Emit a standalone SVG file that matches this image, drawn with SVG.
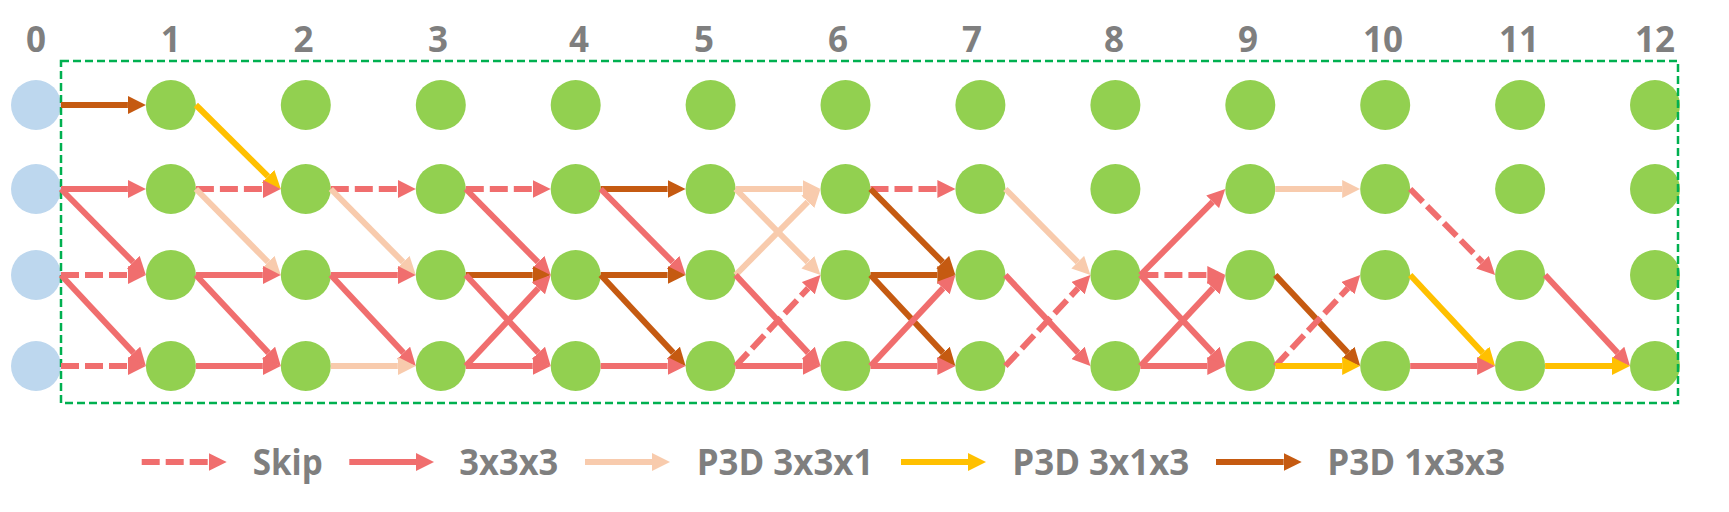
<svg xmlns="http://www.w3.org/2000/svg" width="1729" height="512" viewBox="0 0 1729 512">
<style>
.in{fill:#BDD7EE}
.nd{fill:#92D050}
.lbl{font-family:"Open Sans","Liberation Sans",sans-serif;font-weight:bold;font-size:35px;fill:#7F7F7F}
.c{text-anchor:middle}
#conn path,#legend path{fill:none;stroke-width:6}
.r{stroke:#F06E6E;marker-end:url(#mr)}
.s{stroke:#F06E6E;stroke-dasharray:18 6;marker-end:url(#mr)}
.p{stroke:#F8CBAD;marker-end:url(#mp)}
.y{stroke:#FFC000;marker-end:url(#my)}
.b{stroke:#C55A11;marker-end:url(#mb)}
</style>
<defs>
<marker id="mr" markerUnits="userSpaceOnUse" markerWidth="18" markerHeight="18" refX="0" refY="9" orient="auto"><path d="M0,0 L18,9 L0,18 z" fill="#F06E6E"/></marker>
<marker id="mp" markerUnits="userSpaceOnUse" markerWidth="18" markerHeight="18" refX="0" refY="9" orient="auto"><path d="M0,0 L18,9 L0,18 z" fill="#F8CBAD"/></marker>
<marker id="my" markerUnits="userSpaceOnUse" markerWidth="18" markerHeight="18" refX="0" refY="9" orient="auto"><path d="M0,0 L18,9 L0,18 z" fill="#FFC000"/></marker>
<marker id="mb" markerUnits="userSpaceOnUse" markerWidth="18" markerHeight="18" refX="0" refY="9" orient="auto"><path d="M0,0 L18,9 L0,18 z" fill="#C55A11"/></marker>
</defs>
<rect width="1729" height="512" fill="#FFFFFF"/>
<g id="col-labels" class="lbl c">
<text x="36" y="52">0</text>
<text x="170.7" y="52">1</text>
<text x="303.5" y="52">2</text>
<text x="438" y="52">3</text>
<text x="579" y="52">4</text>
<text x="704" y="52">5</text>
<text x="838" y="52">6</text>
<text x="972" y="52">7</text>
<text x="1114" y="52">8</text>
<text x="1248" y="52">9</text>
<text x="1383" y="52">10</text>
<text x="1519" y="52">11</text>
<text x="1655" y="52">12</text>
</g>
<g id="nodes">
<g id="n0-1"><circle class="in" cx="36" cy="105" r="25"/></g>
<g id="n0-2"><circle class="in" cx="36" cy="189" r="25"/></g>
<g id="n0-3"><circle class="in" cx="36" cy="275" r="25"/></g>
<g id="n0-4"><circle class="in" cx="36" cy="366" r="25"/></g>
<g id="n1-1"><circle class="nd" cx="170.9" cy="105" r="25"/></g>
<g id="n1-2"><circle class="nd" cx="170.9" cy="189" r="25"/></g>
<g id="n1-3"><circle class="nd" cx="170.9" cy="275" r="25"/></g>
<g id="n1-4"><circle class="nd" cx="170.9" cy="366" r="25"/></g>
<g id="n2-1"><circle class="nd" cx="305.8" cy="105" r="25"/></g>
<g id="n2-2"><circle class="nd" cx="305.8" cy="189" r="25"/></g>
<g id="n2-3"><circle class="nd" cx="305.8" cy="275" r="25"/></g>
<g id="n2-4"><circle class="nd" cx="305.8" cy="366" r="25"/></g>
<g id="n3-1"><circle class="nd" cx="440.8" cy="105" r="25"/></g>
<g id="n3-2"><circle class="nd" cx="440.8" cy="189" r="25"/></g>
<g id="n3-3"><circle class="nd" cx="440.8" cy="275" r="25"/></g>
<g id="n3-4"><circle class="nd" cx="440.8" cy="366" r="25"/></g>
<g id="n4-1"><circle class="nd" cx="575.7" cy="105" r="25"/></g>
<g id="n4-2"><circle class="nd" cx="575.7" cy="189" r="25"/></g>
<g id="n4-3"><circle class="nd" cx="575.7" cy="275" r="25"/></g>
<g id="n4-4"><circle class="nd" cx="575.7" cy="366" r="25"/></g>
<g id="n5-1"><circle class="nd" cx="710.6" cy="105" r="25"/></g>
<g id="n5-2"><circle class="nd" cx="710.6" cy="189" r="25"/></g>
<g id="n5-3"><circle class="nd" cx="710.6" cy="275" r="25"/></g>
<g id="n5-4"><circle class="nd" cx="710.6" cy="366" r="25"/></g>
<g id="n6-1"><circle class="nd" cx="845.5" cy="105" r="25"/></g>
<g id="n6-2"><circle class="nd" cx="845.5" cy="189" r="25"/></g>
<g id="n6-3"><circle class="nd" cx="845.5" cy="275" r="25"/></g>
<g id="n6-4"><circle class="nd" cx="845.5" cy="366" r="25"/></g>
<g id="n7-1"><circle class="nd" cx="980.4" cy="105" r="25"/></g>
<g id="n7-2"><circle class="nd" cx="980.4" cy="189" r="25"/></g>
<g id="n7-3"><circle class="nd" cx="980.4" cy="275" r="25"/></g>
<g id="n7-4"><circle class="nd" cx="980.4" cy="366" r="25"/></g>
<g id="n8-1"><circle class="nd" cx="1115.4" cy="105" r="25"/></g>
<g id="n8-2"><circle class="nd" cx="1115.4" cy="189" r="25"/></g>
<g id="n8-3"><circle class="nd" cx="1115.4" cy="275" r="25"/></g>
<g id="n8-4"><circle class="nd" cx="1115.4" cy="366" r="25"/></g>
<g id="n9-1"><circle class="nd" cx="1250.3" cy="105" r="25"/></g>
<g id="n9-2"><circle class="nd" cx="1250.3" cy="189" r="25"/></g>
<g id="n9-3"><circle class="nd" cx="1250.3" cy="275" r="25"/></g>
<g id="n9-4"><circle class="nd" cx="1250.3" cy="366" r="25"/></g>
<g id="n10-1"><circle class="nd" cx="1385.2" cy="105" r="25"/></g>
<g id="n10-2"><circle class="nd" cx="1385.2" cy="189" r="25"/></g>
<g id="n10-3"><circle class="nd" cx="1385.2" cy="275" r="25"/></g>
<g id="n10-4"><circle class="nd" cx="1385.2" cy="366" r="25"/></g>
<g id="n11-1"><circle class="nd" cx="1520.1" cy="105" r="25"/></g>
<g id="n11-2"><circle class="nd" cx="1520.1" cy="189" r="25"/></g>
<g id="n11-3"><circle class="nd" cx="1520.1" cy="275" r="25"/></g>
<g id="n11-4"><circle class="nd" cx="1520.1" cy="366" r="25"/></g>
<g id="n12-1"><circle class="nd" cx="1655" cy="105" r="25"/></g>
<g id="n12-2"><circle class="nd" cx="1655" cy="189" r="25"/></g>
<g id="n12-3"><circle class="nd" cx="1655" cy="275" r="25"/></g>
<g id="n12-4"><circle class="nd" cx="1655" cy="366" r="25"/></g>
</g>
<rect id="frame" x="61" y="61" width="1617" height="342" fill="none" stroke="#00B050" stroke-width="2.5" stroke-dasharray="8 4"/>
<g id="conn">
<path class="b" d="M61,105 L127.9,105"/>
<path class="r" d="M61,189 L127.9,189"/>
<path class="r" d="M61,189 L133.25,262.19"/>
<path class="s" d="M61,275 L127.9,275"/>
<path class="r" d="M61,275 L133.62,352.84"/>
<path class="s" d="M61,366 L127.9,366"/>

<path class="y" d="M195.9,105 L268,176.34"/>
<path class="s" d="M195.9,189 L262.8,189"/>
<path class="p" d="M195.9,189 L268.15,262.19"/>
<path class="r" d="M195.9,275 L262.8,275"/>
<path class="r" d="M195.9,275 L268.52,352.84"/>
<path class="r" d="M195.9,366 L262.8,366"/>

<path class="s" d="M330.8,189 L397.8,189"/>
<path class="p" d="M330.8,189 L403.15,262.19"/>
<path class="r" d="M330.8,275 L397.8,275"/>
<path class="r" d="M330.8,275 L403.52,352.84"/>
<path class="p" d="M330.8,366 L397.8,366"/>

<path class="s" d="M465.8,189 L532.7,189"/>
<path class="r" d="M465.8,189 L538.05,262.19"/>
<path class="b" d="M465.8,275 L532.7,275"/>
<path class="r" d="M465.8,275 L538.42,352.84"/>
<path class="r" d="M465.8,366 L538.42,288.16"/>
<path class="r" d="M465.8,366 L532.7,366"/>

<path class="b" d="M600.7,189 L667.6,189"/>
<path class="r" d="M600.7,189 L672.95,262.19"/>
<path class="b" d="M600.7,275 L667.6,275"/>
<path class="b" d="M600.7,275 L673.32,352.84"/>
<path class="r" d="M600.7,366 L667.6,366"/>

<path class="p" d="M735.6,189 L802.5,189"/>
<path class="p" d="M735.6,189 L807.85,262.19"/>
<path class="p" d="M735.6,275 L807.85,201.81"/>
<path class="r" d="M735.6,275 L808.22,352.84"/>
<path class="s" d="M735.6,366 L808.22,288.16"/>
<path class="r" d="M735.6,366 L802.5,366"/>

<path class="s" d="M870.5,189 L937.4,189"/>
<path class="b" d="M870.5,189 L942.75,262.19"/>
<path class="b" d="M870.5,275 L937.4,275"/>
<path class="b" d="M870.5,275 L943.12,352.84"/>
<path class="r" d="M870.5,366 L943.12,288.16"/>
<path class="r" d="M870.5,366 L937.4,366"/>

<path class="p" d="M1005.4,189 L1077.75,262.19"/>
<path class="r" d="M1005.4,275 L1078.12,352.84"/>
<path class="s" d="M1005.4,366 L1078.12,288.16"/>

<path class="r" d="M1140.4,275 L1212.65,201.81"/>
<path class="s" d="M1140.4,275 L1207.3,275"/>
<path class="r" d="M1140.4,275 L1213.02,352.84"/>
<path class="r" d="M1140.4,366 L1213.02,288.16"/>
<path class="r" d="M1140.4,366 L1207.3,366"/>

<path class="p" d="M1275.3,189 L1342.2,189"/>
<path class="b" d="M1275.3,275 L1347.92,352.84"/>
<path class="s" d="M1275.3,366 L1347.92,288.16"/>
<path class="y" d="M1275.3,366 L1342.2,366"/>

<path class="s" d="M1410.2,189 L1482.45,262.19"/>
<path class="y" d="M1410.2,275 L1482.82,352.84"/>
<path class="r" d="M1410.2,366 L1477.1,366"/>

<path class="r" d="M1545.1,275 L1617.72,352.84"/>
<path class="y" d="M1545.1,366 L1612,366"/>
</g>
<g id="legend">
<path class="s" d="M141.7,462 L208.7,462"/>
<text class="lbl" x="252.7" y="475" textLength="70" lengthAdjust="spacingAndGlyphs">Skip</text>
<path class="r" d="M349.3,462 L416,462"/>
<text class="lbl" x="459.3" y="475" textLength="99" lengthAdjust="spacingAndGlyphs">3x3x3</text>
<path class="p" d="M585,462 L652,462"/>
<text class="lbl" x="696.7" y="475" textLength="176.7" lengthAdjust="spacingAndGlyphs">P3D 3x3x1</text>
<path class="y" d="M901,462 L968,462"/>
<text class="lbl" x="1012.3" y="475" textLength="177" lengthAdjust="spacingAndGlyphs">P3D 3x1x3</text>
<path class="b" d="M1216,462 L1283.7,462"/>
<text class="lbl" x="1327.3" y="475" textLength="177.7" lengthAdjust="spacingAndGlyphs">P3D 1x3x3</text>
</g>
</svg>
